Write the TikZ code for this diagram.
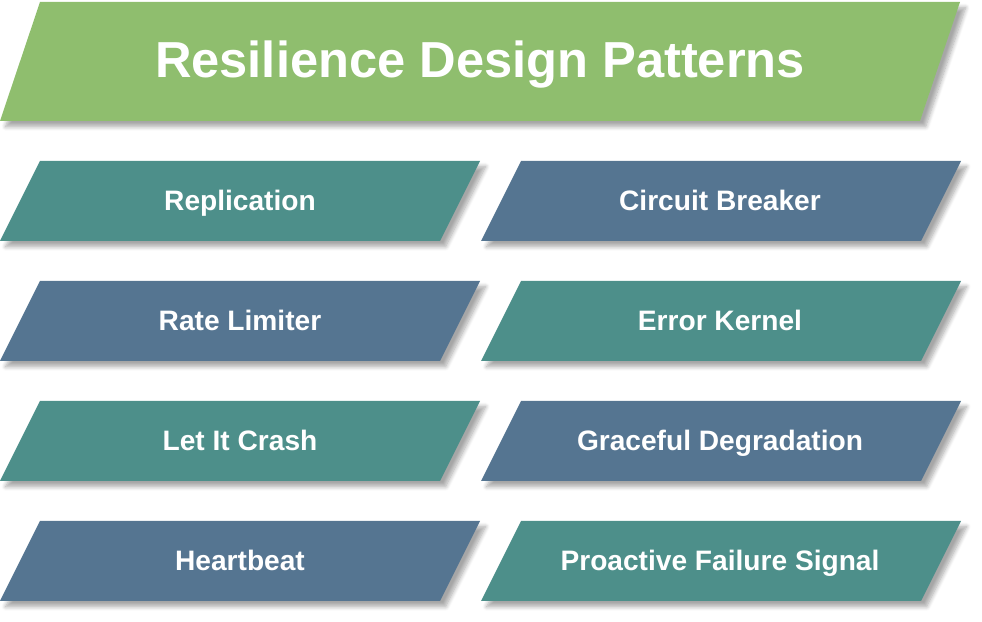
\documentclass[tikz,border=0pt]{standalone}
\usepackage{fontspec}
\setmainfont{Liberation Sans}
\usetikzlibrary{positioning,shadows.blur}
\definecolor{titlegreen}{HTML}{8FBE6E}
\definecolor{tealbox}{HTML}{4D8F8A}
\definecolor{bluebox}{HTML}{557591}
\tikzset{
  shade box/.style={blur shadow={shadow xshift=4pt, shadow yshift=-4pt, shadow blur steps=8,
      shadow opacity=35, shadow blur radius=3pt}},
  label/.style={anchor=base, text=white, inner sep=0pt, font=\fontsize{20}{24}\selectfont\bfseries},
  title label/.style={label, font=\fontsize{36}{42}\selectfont\bfseries}
}
% \pgram{left x}{top y}{height}{slant}{top width}{colour}
\newcommand{\pgram}[6]{%
  \fill[#6, shade box] (#1+#4,#2) -- ++(#5,0) -- ++(-#4,#3) -- ++(-#5,0) -- cycle;}
\begin{document}
\begin{tikzpicture}[x=0.025cm,y=-0.025cm]
  \useasboundingbox (0,0) rectangle (982,622);
  % title banner
  \pgram{0}{2}{119}{40}{920}{titlegreen}
  \node[title label] (title) at (480,78) {Resilience Design Patterns};
  % left column
  \pgram{0}{161}{80}{40}{440}{tealbox}
  \pgram{0}{281}{80}{40}{440}{bluebox}
  \pgram{0}{401}{80}{40}{440}{tealbox}
  \pgram{0}{521}{80}{40}{440}{bluebox}
  \node[label] (repl)  at (240,211) {Replication};
  \node[label] (rate)  at (240,331) {Rate Limiter};
  \node[label] (crash) at (240,451) {Let It Crash};
  \node[label] (heart) at (240,571) {Heartbeat};
  % right column
  \pgram{481}{161}{80}{40}{440}{bluebox}
  \pgram{481}{281}{80}{40}{440}{tealbox}
  \pgram{481}{401}{80}{40}{440}{bluebox}
  \pgram{481}{521}{80}{40}{440}{tealbox}
  \node[label] (breaker) at (720,211) {Circuit Breaker};
  \node[label] (kernel)  at (720,331) {Error Kernel};
  \node[label] (degrade) at (720,451) {Graceful Degradation};
  \node[label] (signal)  at (720,571) {Proactive Failure Signal};
\end{tikzpicture}
\end{document}
